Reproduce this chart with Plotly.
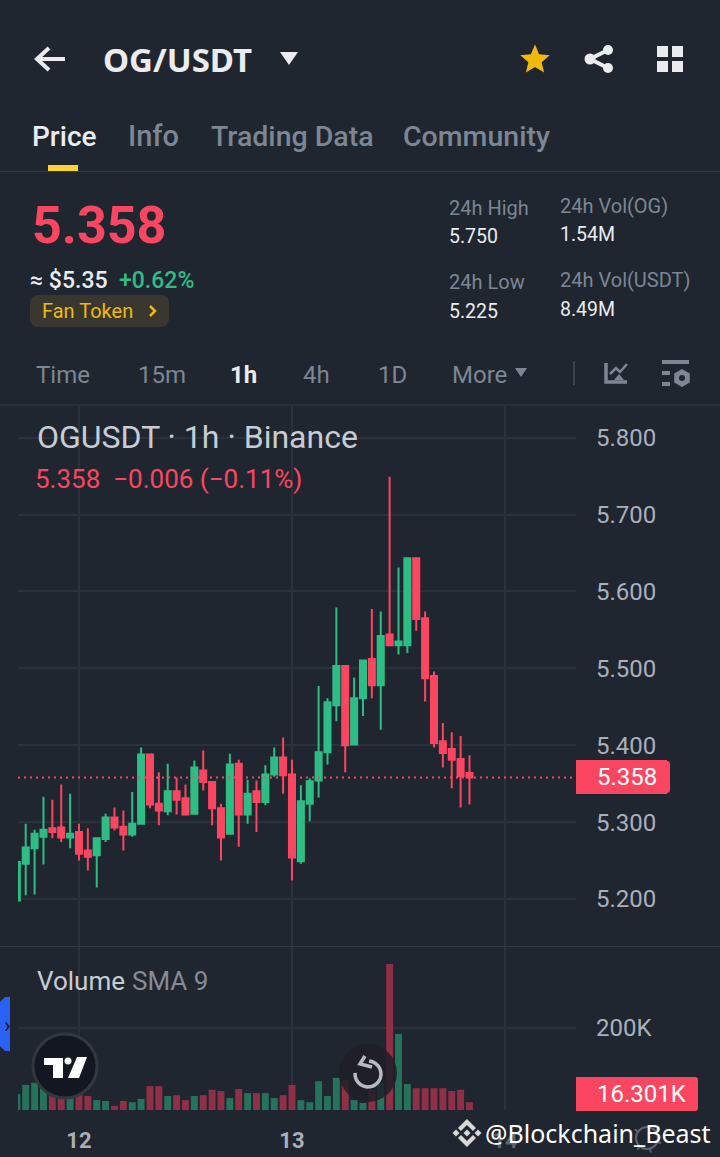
import math
import plotly.graph_objects as go

# OG/USDT 1h candles, hour 0 = the "12" tick
hours = list(range(-7, 45))
opens = [5.198, 5.246, 5.266, 5.281, 5.292, 5.293, 5.280, 5.287, 5.263, 5.257, 5.278, 5.306, 5.294, 5.284, 5.298, 5.388,
         5.324, 5.314, 5.340, 5.331, 5.311, 5.367, 5.352, 5.318, 5.285, 5.376, 5.310, 5.340, 5.326, 5.362, 5.384,
         5.362, 5.249, 5.324, 5.354, 5.391, 5.452, 5.503, 5.401, 5.461, 5.512, 5.478, 5.544, 5.530, 5.530, 5.643, 5.565,
         5.490, 5.405, 5.395, 5.382, 5.364]
closes = [5.248, 5.267, 5.285, 5.290, 5.287, 5.280, 5.285, 5.259, 5.255, 5.279, 5.306, 5.293, 5.284, 5.298, 5.388, 5.323,
          5.315, 5.340, 5.329, 5.310, 5.371, 5.352, 5.318, 5.280, 5.375, 5.310, 5.337, 5.326, 5.362, 5.384, 5.361,
          5.254, 5.327, 5.353, 5.391, 5.456, 5.503, 5.400, 5.461, 5.510, 5.478, 5.542, 5.530, 5.535, 5.643, 5.564, 5.487,
          5.403, 5.390, 5.381, 5.360, 5.358]
highs = [5.248, 5.298, 5.290, 5.333, 5.329, 5.349, 5.337, 5.298, 5.292, 5.279, 5.311, 5.319, 5.315, 5.339, 5.397, 5.388,
         5.365, 5.376, 5.358, 5.349, 5.380, 5.393, 5.353, 5.324, 5.389, 5.381, 5.355, 5.354, 5.374, 5.397, 5.410,
         5.381, 5.348, 5.357, 5.477, 5.461, 5.579, 5.503, 5.488, 5.510, 5.577, 5.574, 5.749, 5.631, 5.643, 5.643, 5.574,
         5.496, 5.429, 5.417, 5.412, 5.387]
lows = [5.198, 5.205, 5.206, 5.245, 5.279, 5.274, 5.266, 5.250, 5.237, 5.215, 5.274, 5.289, 5.263, 5.281, 5.298, 5.318,
        5.296, 5.309, 5.310, 5.310, 5.311, 5.341, 5.296, 5.250, 5.285, 5.268, 5.298, 5.287, 5.322, 5.359, 5.337,
        5.224, 5.246, 5.301, 5.332, 5.375, 5.431, 5.365, 5.400, 5.438, 5.461, 5.420, 5.530, 5.518, 5.520, 5.549, 5.457,
        5.397, 5.371, 5.344, 5.319, 5.323]
volumes = [39, 61, 66, 53, 36, 32, 29, 36, 34, 24, 22, 10, 22, 19, 27, 58, 58, 34, 36, 24, 34, 36, 49, 46, 29, 51,
           41, 41, 41, 29, 36, 61, 24, 19, 70, 34, 78, 73, 24, 17, 49, 65, 355, 185, 63, 53, 53, 53, 53, 46, 49, 19]

price_ticks = [5.2, 5.3, 5.4, 5.5, 5.6, 5.7, 5.8]
day_ticks = [0, 24, 48]
day_labels = ["12", "13", "<span style='color:#5d6470'>14</span>"]
last_price = 5.358

BG = "#1f2630"
RED = "#fb4661"
GREEN = "#2ebd85"
VOL_RED = "#8f3046"
VOL_GREEN = "#26735c"
GRID = "#2a313b"
WHITE = "#eaecef"
GREY = "#7d8693"
W, H = 720, 1157


def px(x):
    return x / W


def py(y):
    return 1 - y / H


vol_colors = [VOL_GREEN if c >= o else VOL_RED for o, c in zip(opens, closes)]

fig = go.Figure()
fig.add_trace(go.Candlestick(
    x=hours, open=opens, high=highs, low=lows, close=closes, yaxis="y", whiskerwidth=0,
    increasing=dict(line=dict(color=GREEN, width=2), fillcolor=GREEN),
    decreasing=dict(line=dict(color=RED, width=2), fillcolor=RED),
))
fig.add_trace(go.Bar(x=hours, y=volumes, yaxis="y2", marker=dict(color=vol_colors, line_width=0), width=0.78))

shapes = []
notes = []


def text(x, y, s, size, color, font="Roboto", anchor="left", weight=400):
    notes.append(dict(xref="paper", yref="paper", x=px(x), y=py(y), text=s, showarrow=False, xanchor=anchor,
                      yanchor="middle", borderpad=0, borderwidth=0,
                      font=dict(family=font, size=size, color=color, weight=weight)))


def poly(points, fill, closed=True, line=None, width=0):
    d = "M" + " L".join(f"{px(a):.5f},{py(b):.5f}" for a, b in points) + (" Z" if closed else "")
    shapes.append(dict(type="path", path=d, xref="paper", yref="paper", fillcolor=fill if closed else "rgba(0,0,0,0)",
                       line=dict(color=line or fill, width=width)))


def rect(x0, y0, x1, y1, fill):
    shapes.append(dict(type="rect", xref="paper", yref="paper", x0=px(x0), x1=px(x1), y0=py(y0), y1=py(y1),
                       fillcolor=fill, line_width=0))


def circle(cx, cy, r, fill, line=None, width=0):
    shapes.append(dict(type="circle", xref="paper", yref="paper", x0=px(cx - r), x1=px(cx + r), y0=py(cy - r),
                       y1=py(cy + r), fillcolor=fill, line=dict(color=line or fill, width=width)))


# separators
rect(0, 171, 720, 172, "#333a45")
rect(0, 404, 720, 406, GRID)
rect(0, 946, 720, 947, "#333a45")
rect(48, 165, 78, 171, "#fcd535")

# last price line and tags
shapes.append(dict(type="line", xref="paper", yref="y", x0=px(18), x1=px(576), y0=last_price, y1=last_price,
                   line=dict(color=RED, width=2, dash="2px,4px")))
rect(576, 760, 667, 794, RED)
circle(667, 764, 3, RED)
circle(667, 790, 3, RED)
rect(667, 764, 670, 790, RED)
text(597, 777, "5.358", 24, "#ffffff")
rect(576, 1077, 695, 1111, RED)
rect(695, 1080, 698, 1108, RED)
circle(695, 1080, 3, RED)
circle(695, 1108, 3, RED)
text(597, 1094, "16.301K", 24, "#ffffff")

# header
poly([(65, 59), (36, 59)], WHITE, closed=False, width=4)
poly([(49, 48), (37, 59), (49, 70)], WHITE, closed=False, width=4)
text(103, 60, "OG/USDT", 33, WHITE, font="Noto Sans", weight=700)
poly([(280, 52), (298, 52), (289, 65)], WHITE)
poly([(535 + (15.5 if i % 2 == 0 else 7) * math.sin(i * math.pi / 5),
       60 - (15.5 if i % 2 == 0 else 7) * math.cos(i * math.pi / 5)) for i in range(10)], "#f0b90b")
poly([(608, 50), (590, 59), (608, 68)], WHITE, closed=False, width=4)
circle(608, 50, 5, WHITE)
circle(590, 59, 5.5, WHITE)
circle(608, 68, 5, WHITE)
for x0 in (657, 672):
    for y0 in (46, 61):
        rect(x0, y0, x0 + 11, y0 + 11, WHITE)

text(32, 136, "Price", 28, WHITE, weight=500)
text(128, 136, "Info", 29, GREY, weight=500)
text(211, 136, "Trading Data", 28.5, GREY, weight=500)
text(403, 136, "Community", 28.5, GREY, weight=500)

# price block
text(32, 226, "5.358", 52, RED, weight=700)
text(30, 280, "≈ $5.35", 23, WHITE, weight=500)
text(119, 280, "+0.62%", 23, GREEN, weight=500)
rect(38, 295, 161, 327, "#3a372e")
rect(30, 303, 169, 319, "#3a372e")
for cx in (38, 161):
    for cy in (303, 319):
        circle(cx, cy, 8, "#3a372e")
text(42, 311, "Fan Token", 20, "#f0b90b")
poly([(150, 306), (155, 311), (150, 316)], "#f0b90b", closed=False, width=2.5)

text(449, 208, "24h High", 20, GREY)
text(449, 237, "5.750", 19.5, WHITE)
text(560, 206, "24h Vol(OG)", 20, GREY)
text(560, 235, "1.54M", 19.5, WHITE)
text(449, 282, "24h Low", 20, GREY)
text(449, 311, "5.225", 19.5, WHITE)
text(560, 280, "24h Vol(USDT)", 20, GREY)
text(560, 309, "8.49M", 19.5, WHITE)

# interval bar
text(36, 375, "Time", 24, GREY)
text(138, 375, "15m", 24, GREY)
text(230, 375, "1h", 24, WHITE, weight=700)
text(303, 375, "4h", 24, GREY)
text(378, 375, "1D", 24, GREY)
text(452, 375, "More", 24, GREY)
poly([(515, 368), (527, 368), (521, 377)], GREY)
rect(573, 361, 575, 385, "#3c4350")
poly([(606, 363), (606, 382), (627, 382)], GREY, closed=False, width=3.5)
poly([(610, 374), (616, 368), (620, 372), (627, 364)], GREY, closed=False, width=2.5)
poly([(614, 380), (619, 374), (624, 380)], GREY)
rect(662, 360, 689, 364, GREY)
rect(662, 371, 670, 375, GREY)
rect(662, 382, 670, 386, GREY)
poly([(682 + 9 * math.sin(i * math.pi / 3), 378 - 9 * math.cos(i * math.pi / 3)) for i in range(6)], GREY)
circle(682, 378, 3, BG)

# chart labels
text(37, 437, "OGUSDT · 1h · Binance", 32, "#c8ccd4")
text(35, 479, "5.358  −0.006 (−0.11%)", 26, RED)
text(37, 981, "Volume", 26, "#c8ccd4")
text(132, 981, "SMA 9", 26, "#868b95")

# overlays on the chart
poly([(5, 997), (10, 997), (10, 1051), (5, 1051), (0, 1046), (0, 1002)], "#2a62f5")
text(4, 1025, "›", 22, "#131722")
circle(65, 1066, 32, "#131722", line="#33383f", width=3)
poly([(44, 1058), (63, 1058), (63, 1078), (53, 1078), (53, 1065), (44, 1065)], "#ffffff")
circle(68, 1061, 3.5, "#ffffff")
poly([(77, 1057), (87, 1057), (79, 1078), (68, 1078)], "#ffffff")
circle(368, 1073, 29, "rgba(30,32,40,0.85)")
poly([(368 + 13 * math.cos(a * math.pi / 180), 1074 + 13 * math.sin(a * math.pi / 180)) for a in range(-85, 190, 15)],
     "#b7bac2", closed=False, width=3.5)
poly([(365, 1056), (360, 1064), (372, 1067)], "#b7bac2", closed=False, width=3.5)

# watermark
circle(647, 1138, 11, "rgba(0,0,0,0)", line="#5d6470", width=2)
for a in (20, 75, 130, 215, 320):
    ca, sa = math.cos(a * math.pi / 180), math.sin(a * math.pi / 180)
    poly([(647 + 11 * ca, 1138 + 11 * sa), (647 + 15 * ca, 1138 + 15 * sa)], "#5d6470", closed=False, width=2)
poly([(467, 1119), (476, 1128), (473, 1131), (467, 1125), (461, 1131), (458, 1128)], "#d8d8d8")
poly([(467, 1147), (476, 1138), (473, 1135), (467, 1141), (461, 1135), (458, 1138)], "#d8d8d8")
for cx in (456, 467, 478):
    poly([(cx - 3.5, 1133), (cx, 1129.5), (cx + 3.5, 1133), (cx, 1136.5)], "#d8d8d8")
text(485, 1133, "@Blockchain_Beast", 25, "#ffffff", font="Noto Sans")

fig.update_layout(
    width=W, height=H, margin=dict(l=0, r=0, t=0, b=0, pad=0), paper_bgcolor=BG, plot_bgcolor=BG,
    showlegend=False, shapes=shapes, annotations=notes, hovermode=False, boxgap=0.32, boxgroupgap=0,
    font=dict(family="Roboto", color="#aab0bb"),
    xaxis=dict(domain=[px(18), px(576)], range=[-6.87, 56], anchor="y2", rangeslider_visible=False,
               tickmode="array", tickvals=day_ticks, ticktext=day_labels, showgrid=True, gridcolor=GRID, gridwidth=2,
               zeroline=False, showline=False, ticks="", ticklabelstandoff=15,
               tickfont=dict(size=22, color="#a9aeb8", weight=700)),
    yaxis=dict(domain=[py(946), py(405)], range=[5.1389, 5.8424], side="right", anchor="x",
               tickmode="array", tickvals=price_ticks, tickformat=".3f", showgrid=True, gridcolor=GRID, gridwidth=2,
               zeroline=False, showline=False, ticks="", ticklabelstandoff=19,
               tickfont=dict(size=24, color="#aab0bb")),
    yaxis2=dict(domain=[py(1110), py(946)], range=[0, 398.5], side="right", anchor="x",
                tickmode="array", tickvals=[200], ticktext=["200K"], showgrid=True, gridcolor=GRID, gridwidth=2,
                zeroline=False, showline=False, ticks="", ticklabelstandoff=19,
                tickfont=dict(size=24, color="#aab0bb")),
)

fig.write_html("out.html", config={"displayModeBar": False}, post_script="document.body.style.margin='0';")
